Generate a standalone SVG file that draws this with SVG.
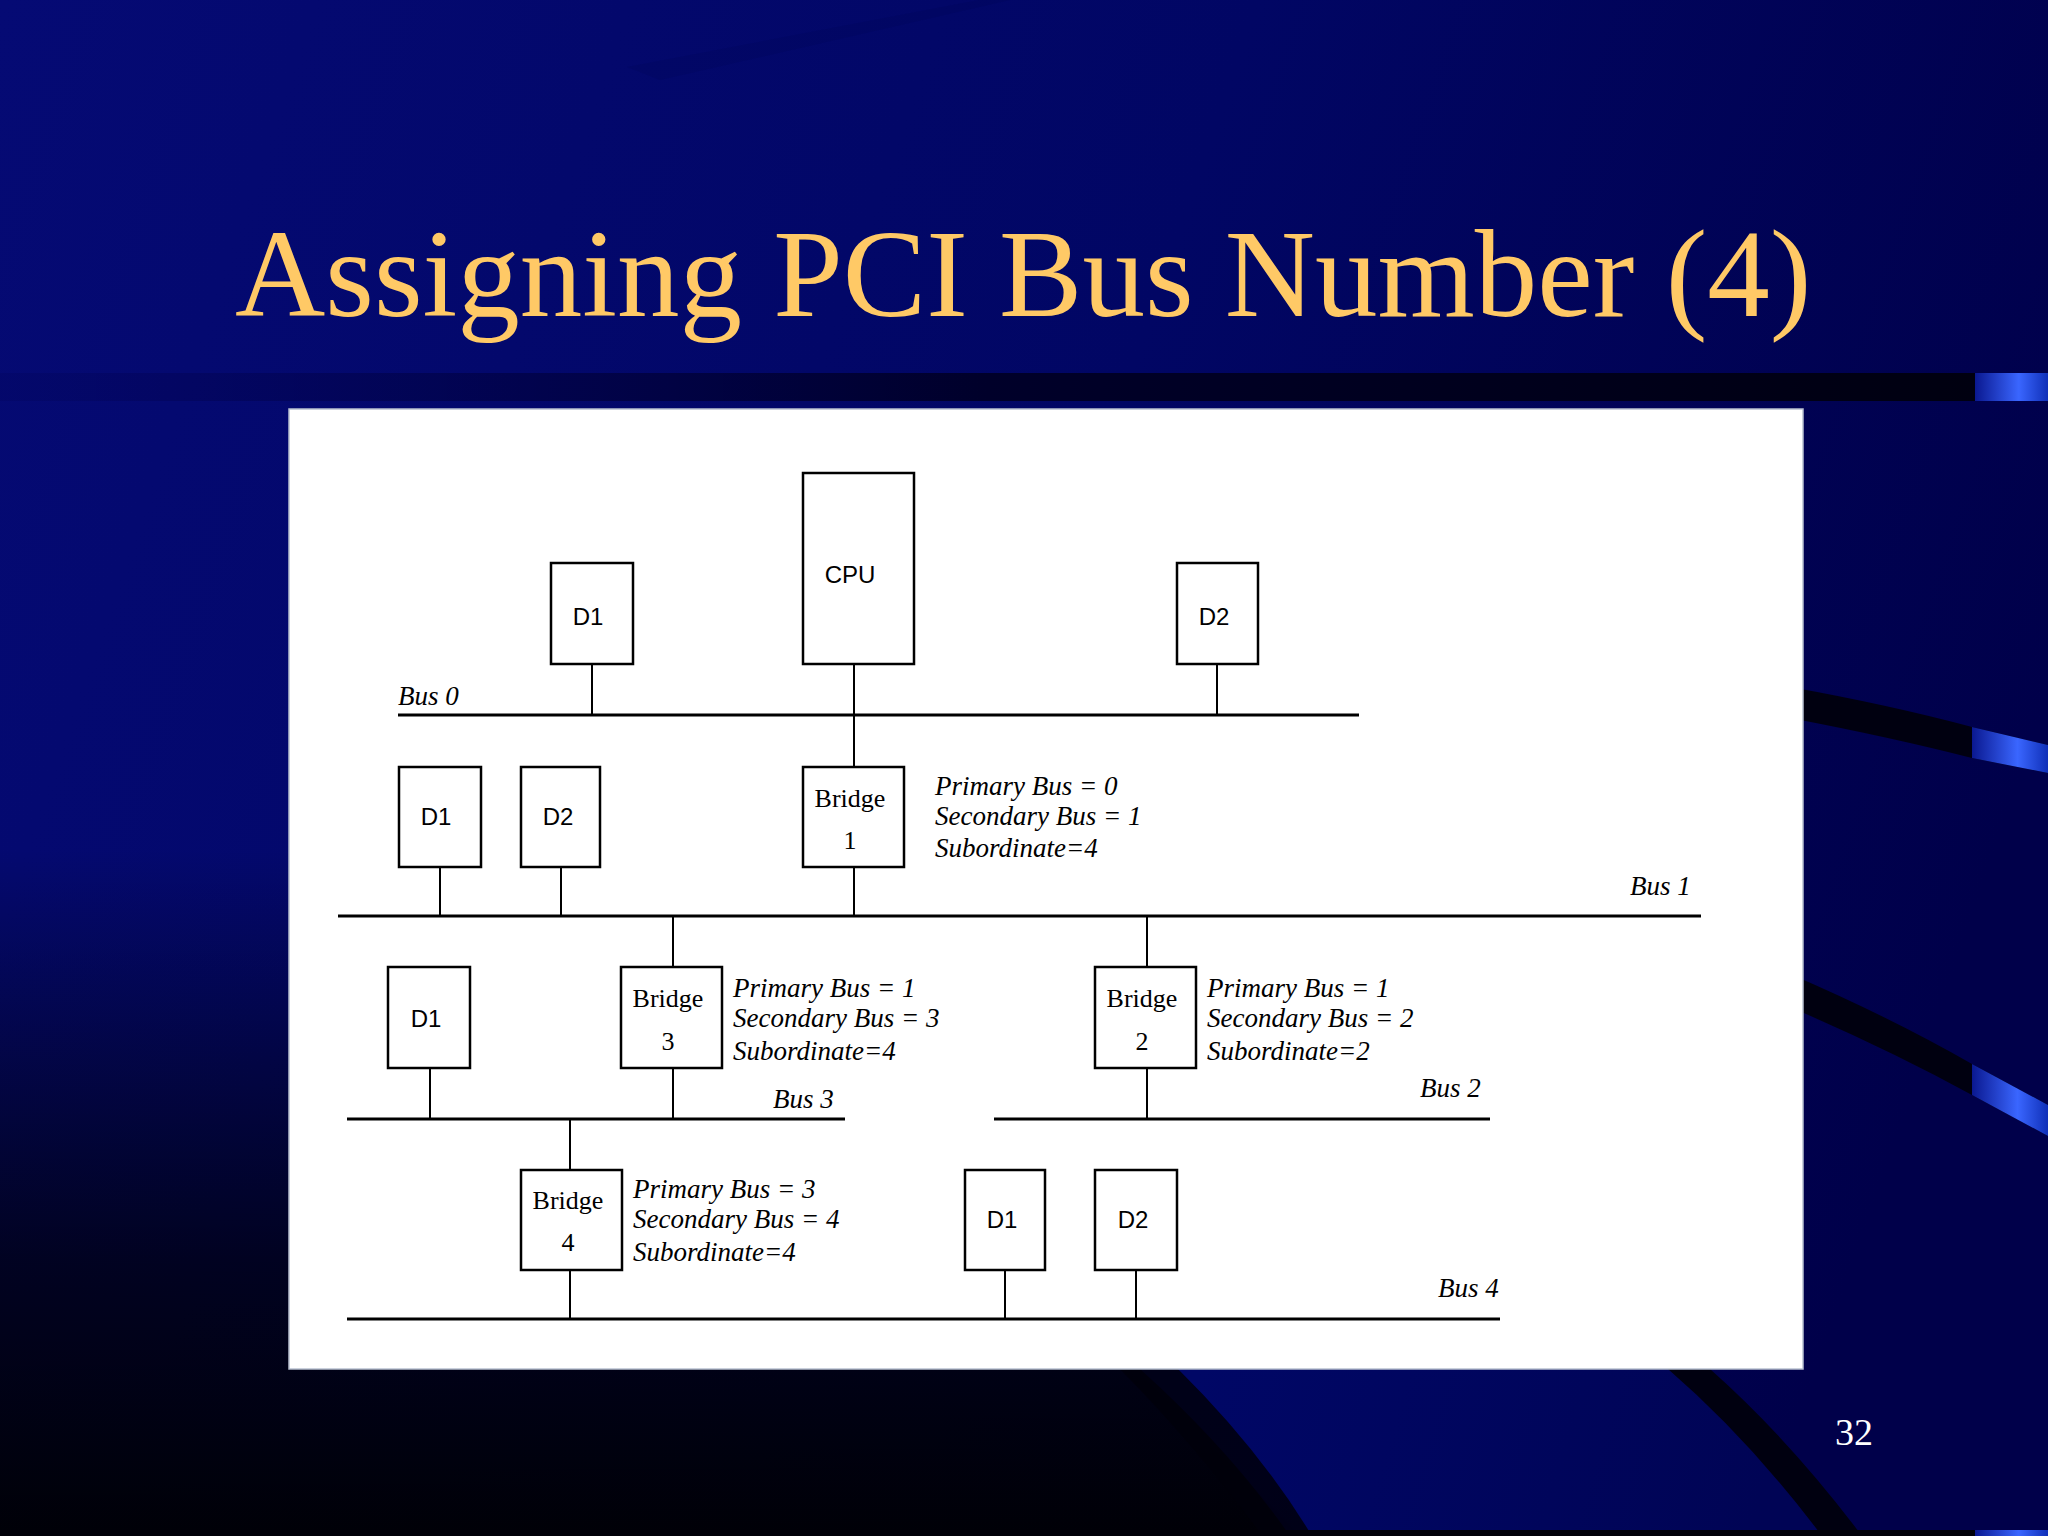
<svg xmlns="http://www.w3.org/2000/svg" width="2048" height="1536" viewBox="0 0 2048 1536">
<defs>
<linearGradient id="bg" x1="0" y1="0" x2="2048" y2="700" gradientUnits="userSpaceOnUse">
<stop offset="0" stop-color="#050a74"/>
<stop offset="0.55" stop-color="#010664"/>
<stop offset="1" stop-color="#00004a"/>
</linearGradient>
<linearGradient id="fade" x1="0" y1="850" x2="0" y2="1536" gradientUnits="userSpaceOnUse">
<stop offset="0" stop-color="#000000" stop-opacity="0"/>
<stop offset="0.6" stop-color="#000008" stop-opacity="0.75"/>
<stop offset="1" stop-color="#000004" stop-opacity="0.97"/>
</linearGradient>
<linearGradient id="band" x1="0" y1="0" x2="1975" y2="0" gradientUnits="userSpaceOnUse">
<stop offset="0" stop-color="#000050" stop-opacity="0.2"/>
<stop offset="0.5" stop-color="#00002a"/>
<stop offset="1" stop-color="#000010"/>
</linearGradient>
<linearGradient id="glow" x1="0" y1="0" x2="1" y2="0">
<stop offset="0" stop-color="#0a1890"/>
<stop offset="0.6" stop-color="#3a66ff"/>
<stop offset="1" stop-color="#1030b8"/>
</linearGradient>
<linearGradient id="lite" x1="1200" y1="1369" x2="1750" y2="1536" gradientUnits="userSpaceOnUse">
<stop offset="0" stop-color="#000766"/>
<stop offset="1" stop-color="#000455"/>
</linearGradient>
<style>
.box{fill:#ffffff;stroke:#000000;stroke-width:2.5}
.bus{stroke:#000000;stroke-width:3;fill:none}
.wire{stroke:#000000;stroke-width:2;fill:none}
.dev{font-family:"Liberation Sans",Arial,sans-serif;font-size:24px;text-anchor:middle;fill:#000}
.brg{font-family:"Liberation Serif","Times New Roman",serif;font-size:26px;text-anchor:middle;fill:#000}
.info{font-family:"Liberation Serif","Times New Roman",serif;font-style:italic;font-size:27px;fill:#000}
</style>
</defs>

<g id="background">
<rect x="0" y="0" width="2048" height="1536" fill="url(#bg)"/>
<path d="M979,0 L1010,0 L660,80 L627,67 Z" fill="#000040" opacity="0.12"/>
<path d="M1136,1369 L1700,1369 L1860,1536 L1300,1536 Z" fill="url(#lite)"/>
<path d="M0,800 L1110,800 L1110,1369 L1140,1369 Q1230,1450 1290,1536 L0,1536 Z" fill="url(#fade)"/>
<path d="M1120,1369 L1178,1369 Q1260,1450 1312,1536 L1262,1536 Q1200,1450 1120,1369 Z" fill="#00000a" opacity="0.85"/>
<path d="M1668,1369 L1710,1369 Q1790,1440 1862,1536 L1822,1536 Q1750,1440 1668,1369 Z" fill="#000010"/>
<rect x="0" y="373" width="1975" height="28" fill="url(#band)"/>
<rect x="1975" y="373" width="73" height="28" fill="url(#glow)"/>
<path d="M1790,687 Q1890,705 1972,727 L2048,745 L2048,773 L1972,758 Q1890,737 1790,718 Z" fill="#000010"/>
<path d="M1972,727 L2048,745 L2048,773 L1972,758 Z" fill="url(#glow)"/>
<path d="M1790,974 Q1890,1017 1972,1064 L2048,1105 L2048,1136 L1972,1095 Q1890,1050 1790,1007 Z" fill="#000010"/>
<path d="M1972,1064 L2048,1105 L2048,1136 L1972,1095 Z" fill="url(#glow)"/>
<rect x="0" y="1530" width="1975" height="6" fill="#000008"/>
<rect x="1975" y="1530" width="73" height="6" fill="url(#glow)"/>
</g>

<text x="235" y="316" font-family="Liberation Serif,'Times New Roman',serif" font-size="125" fill="#ffc966">Assigning PCI Bus Number (4)</text>
<text x="1835" y="1445" font-family="Liberation Serif,'Times New Roman',serif" font-size="38" fill="#ffffff">32</text>

<rect id="panel" x="289" y="409" width="1514" height="960" fill="#ffffff" stroke="#b8c0d0" stroke-width="1.5"/>

<g id="connectors">
<line class="bus" x1="398" y1="715" x2="1359" y2="715"/>
<line class="bus" x1="338" y1="916" x2="1701" y2="916"/>
<line class="bus" x1="347" y1="1119" x2="845" y2="1119"/>
<line class="bus" x1="994" y1="1119" x2="1490" y2="1119"/>
<line class="bus" x1="347" y1="1319" x2="1500" y2="1319"/>
<line class="wire" x1="592" y1="664" x2="592" y2="715"/>
<line class="wire" x1="854" y1="664" x2="854" y2="767"/>
<line class="wire" x1="1217" y1="664" x2="1217" y2="715"/>
<line class="wire" x1="440" y1="867" x2="440" y2="916"/>
<line class="wire" x1="561" y1="867" x2="561" y2="916"/>
<line class="wire" x1="854" y1="867" x2="854" y2="916"/>
<line class="wire" x1="673" y1="916" x2="673" y2="967"/>
<line class="wire" x1="673" y1="1068" x2="673" y2="1119"/>
<line class="wire" x1="430" y1="1068" x2="430" y2="1119"/>
<line class="wire" x1="1147" y1="916" x2="1147" y2="967"/>
<line class="wire" x1="1147" y1="1068" x2="1147" y2="1119"/>
<line class="wire" x1="570" y1="1119" x2="570" y2="1170"/>
<line class="wire" x1="570" y1="1270" x2="570" y2="1319"/>
<line class="wire" x1="1005" y1="1270" x2="1005" y2="1319"/>
<line class="wire" x1="1136" y1="1270" x2="1136" y2="1319"/>
</g>

<g id="bus-labels">
<text class="info" x="398" y="705">Bus 0</text>
<text class="info" x="1630" y="895">Bus 1</text>
<text class="info" x="773" y="1108">Bus 3</text>
<text class="info" x="1420" y="1097">Bus 2</text>
<text class="info" x="1438" y="1297">Bus 4</text>
</g>

<g id="cpu">
<rect class="box" x="803" y="473" width="111" height="191"/>
<text class="dev" x="850" y="583">CPU</text>
</g>
<g id="d1-bus0">
<rect class="box" x="551" y="563" width="82" height="101"/>
<text class="dev" x="588" y="625">D1</text>
</g>
<g id="d2-bus0">
<rect class="box" x="1177" y="563" width="81" height="101"/>
<text class="dev" x="1214" y="625">D2</text>
</g>
<g id="d1-bus1">
<rect class="box" x="399" y="767" width="82" height="100"/>
<text class="dev" x="436" y="825">D1</text>
</g>
<g id="d2-bus1">
<rect class="box" x="521" y="767" width="79" height="100"/>
<text class="dev" x="558" y="825">D2</text>
</g>
<g id="bridge1">
<rect class="box" x="803" y="767" width="101" height="100"/>
<text class="brg" x="850" y="807">Bridge</text>
<text class="brg" x="850" y="849">1</text>
<text class="info" x="935" y="795">Primary Bus = 0</text>
<text class="info" x="935" y="825">Secondary Bus = 1</text>
<text class="info" x="935" y="857">Subordinate=4</text>
</g>
<g id="d1-bus3">
<rect class="box" x="388" y="967" width="82" height="101"/>
<text class="dev" x="426" y="1027">D1</text>
</g>
<g id="bridge3">
<rect class="box" x="621" y="967" width="101" height="101"/>
<text class="brg" x="668" y="1007">Bridge</text>
<text class="brg" x="668" y="1050">3</text>
<text class="info" x="733" y="997">Primary Bus = 1</text>
<text class="info" x="733" y="1027">Secondary Bus = 3</text>
<text class="info" x="733" y="1060">Subordinate=4</text>
</g>
<g id="bridge2">
<rect class="box" x="1095" y="967" width="101" height="101"/>
<text class="brg" x="1142" y="1007">Bridge</text>
<text class="brg" x="1142" y="1050">2</text>
<text class="info" x="1207" y="997">Primary Bus = 1</text>
<text class="info" x="1207" y="1027">Secondary Bus = 2</text>
<text class="info" x="1207" y="1060">Subordinate=2</text>
</g>
<g id="bridge4">
<rect class="box" x="521" y="1170" width="101" height="100"/>
<text class="brg" x="568" y="1209">Bridge</text>
<text class="brg" x="568" y="1251">4</text>
<text class="info" x="633" y="1198">Primary Bus = 3</text>
<text class="info" x="633" y="1228">Secondary Bus = 4</text>
<text class="info" x="633" y="1261">Subordinate=4</text>
</g>
<g id="d1-bus4">
<rect class="box" x="965" y="1170" width="80" height="100"/>
<text class="dev" x="1002" y="1228">D1</text>
</g>
<g id="d2-bus4">
<rect class="box" x="1095" y="1170" width="82" height="100"/>
<text class="dev" x="1133" y="1228">D2</text>
</g>
</svg>
